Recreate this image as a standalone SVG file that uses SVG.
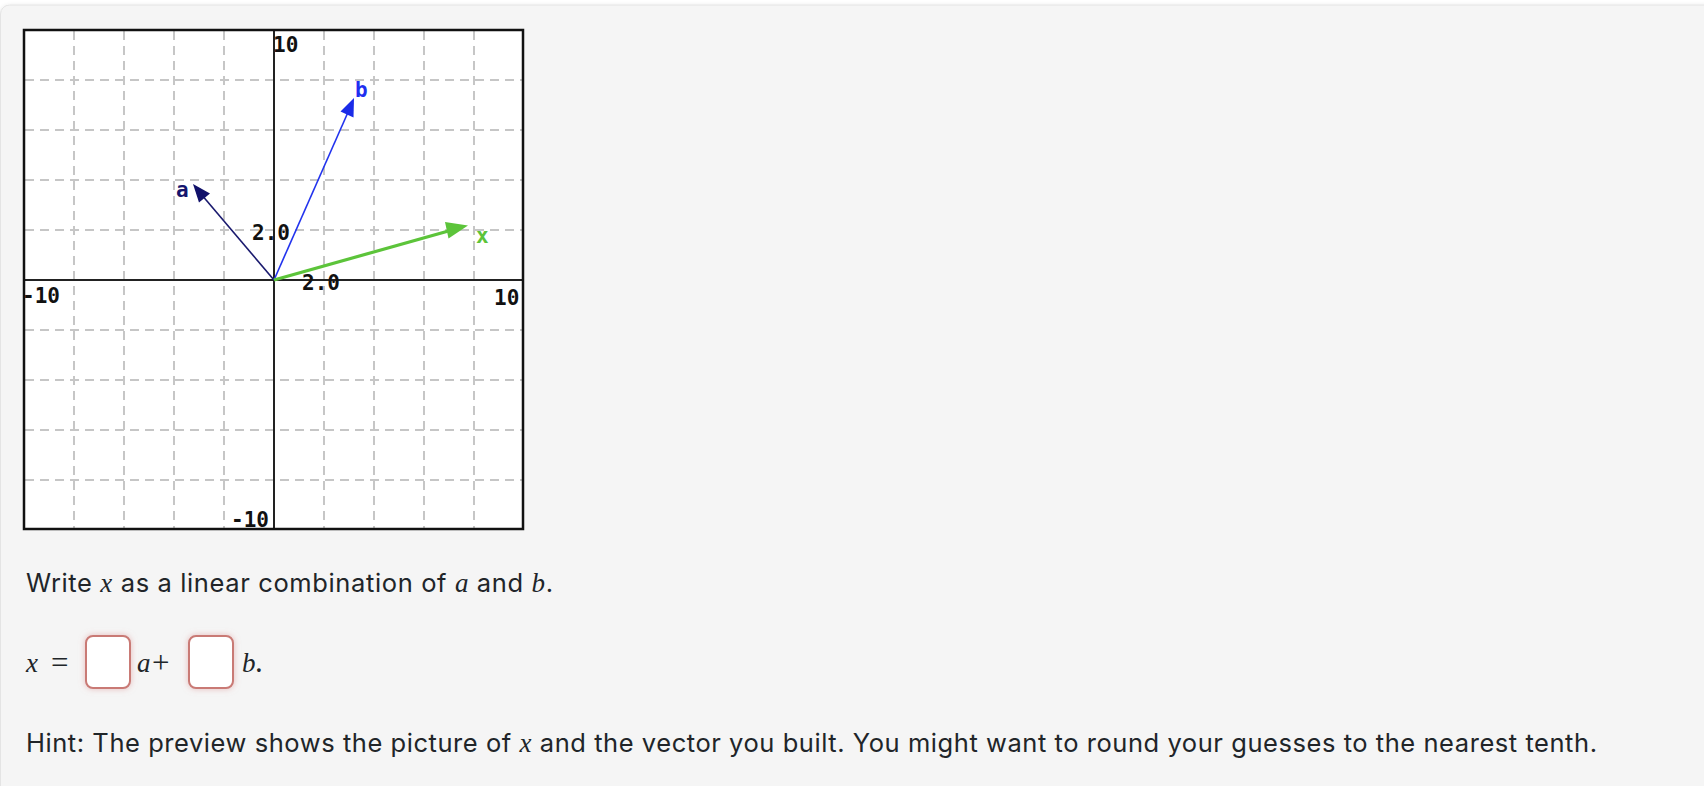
<svg xmlns="http://www.w3.org/2000/svg" width="1704" height="786" viewBox="0 0 1704 786">
  <defs>
    <filter id="cardShadow" x="-5%" y="-5%" width="110%" height="110%">
      <feDropShadow dx="0" dy="1" stdDeviation="2" flood-color="#000" flood-opacity="0.12"/>
    </filter>
    <filter id="glow" x="-40%" y="-40%" width="180%" height="180%">
      <feDropShadow dx="0" dy="0" stdDeviation="3" flood-color="#d98c8c" flood-opacity="0.55"/>
    </filter>
  </defs>
  <style>
    .grid { stroke: #c6c6c6; stroke-width: 2; stroke-dasharray: 9 6; fill: none; }
    .axis { stroke: #222; stroke-width: 2; fill: none; }
    .lbl { font-family: "DejaVu Sans Mono", "Liberation Mono", monospace; font-weight: bold; font-size: 21px; fill: #111; }
    .vlbl { font-family: "DejaVu Sans Mono", "Liberation Mono", monospace; font-weight: bold; font-size: 21px; }
    .txt { font-family: Inter, "Liberation Sans", "Noto Sans", sans-serif; font-size: 25.5px; fill: #212529; }
    .math { font-family: "Liberation Serif", "DejaVu Serif", serif; font-style: italic; font-size: 27px; fill: #212529; }
    .mathr { font-family: "Liberation Serif", "DejaVu Serif", serif; font-size: 31px; fill: #212529; }
    .inbox { fill: #ffffff; stroke: #c97a75; stroke-width: 2; }
  </style>

  <rect x="0" y="0" width="1704" height="786" fill="#ffffff"/>
  <rect x="0.5" y="5" width="1720" height="800" rx="9" fill="#f5f5f5" stroke="#e4e4e4" stroke-width="1" filter="url(#cardShadow)"/>

  <g id="graph">
    <rect x="24" y="30" width="499" height="499" fill="#ffffff"/>
    <g id="grid">
      <line class="grid" x1="74" y1="31" x2="74" y2="528"/>
      <line class="grid" x1="124" y1="31" x2="124" y2="528"/>
      <line class="grid" x1="174" y1="31" x2="174" y2="528"/>
      <line class="grid" x1="224" y1="31" x2="224" y2="528"/>
      <line class="grid" x1="324" y1="31" x2="324" y2="528"/>
      <line class="grid" x1="374" y1="31" x2="374" y2="528"/>
      <line class="grid" x1="424" y1="31" x2="424" y2="528"/>
      <line class="grid" x1="474" y1="31" x2="474" y2="528"/>
      <line class="grid" x1="25" y1="80" x2="522" y2="80"/>
      <line class="grid" x1="25" y1="130" x2="522" y2="130"/>
      <line class="grid" x1="25" y1="180" x2="522" y2="180"/>
      <line class="grid" x1="25" y1="230" x2="522" y2="230"/>
      <line class="grid" x1="25" y1="330" x2="522" y2="330"/>
      <line class="grid" x1="25" y1="380" x2="522" y2="380"/>
      <line class="grid" x1="25" y1="430" x2="522" y2="430"/>
      <line class="grid" x1="25" y1="480" x2="522" y2="480"/>
    </g>
    <g id="axes">
      <line class="axis" x1="274" y1="30" x2="274" y2="529"/>
      <line class="axis" x1="24" y1="280" x2="523" y2="280"/>
    </g>
    <g id="axis-labels">
      <text class="lbl" x="273" y="52">10</text>
      <text class="lbl" x="252" y="240">2.0</text>
      <text class="lbl" x="302" y="290">2.0</text>
      <text class="lbl" x="22" y="303">-10</text>
      <text class="lbl" x="494" y="305">10</text>
      <text class="lbl" x="231" y="527">-10</text>
    </g>
    <rect x="24" y="30" width="499" height="499" fill="none" stroke="#111" stroke-width="2.5"/>
  </g>

  <g id="connectors">
    <g id="vec-a">
      <line x1="274" y1="280" x2="201" y2="194" stroke="#1a1a6e" stroke-width="1.6"/>
      <polygon points="193,184 210,193.5 199,202.5" fill="#10106a"/>
    </g>
    <g id="vec-b">
      <line x1="274" y1="280" x2="349" y2="110" stroke="#2233ee" stroke-width="1.6"/>
      <polygon points="354,98 353.5,117.5 340.5,111.5" fill="#1a2be8"/>
    </g>
    <g id="vec-x">
      <line x1="274" y1="280" x2="452" y2="230" stroke="#5cc43a" stroke-width="3.2"/>
      <polygon points="468,225.5 448.5,238.5 445,222" fill="#5cc43a"/>
    </g>
  </g>

  <g id="vector-labels">
    <text class="vlbl" x="176" y="197" fill="#15156e">a</text>
    <text class="vlbl" x="355" y="97" fill="#1f2ff0">b</text>
    <text class="vlbl" x="476" y="243" fill="#5cc43a">x</text>
  </g>

  <g id="question">
    <text class="txt" x="26" y="592" textLength="527" lengthAdjust="spacing">Write <tspan class="math">x</tspan> as a linear combination of <tspan class="math">a</tspan> and <tspan class="math">b</tspan>.</text>
  </g>

  <g id="equation">
    <text class="math" x="26" y="672">x</text>
    <text class="mathr" x="51" y="673">=</text>
    <rect class="inbox" x="86" y="636" width="44" height="52" rx="7" filter="url(#glow)"/>
    <text class="math" x="137" y="672">a</text>
    <text class="mathr" x="152" y="673">+</text>
    <rect class="inbox" x="189" y="636" width="44" height="52" rx="7" filter="url(#glow)"/>
    <text class="math" x="242" y="672">b</text>
    <text class="mathr" x="255" y="672">.</text>
  </g>

  <g id="hint">
    <text class="txt" x="26" y="752" textLength="1571" lengthAdjust="spacing">Hint: The preview shows the picture of <tspan class="math">x</tspan> and the vector you built. You might want to round your guesses to the nearest tenth.</text>
  </g>
</svg>
